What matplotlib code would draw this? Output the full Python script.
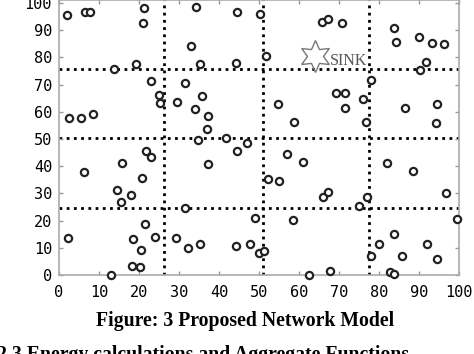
import matplotlib
matplotlib.use("Agg")
import matplotlib.pyplot as plt
import numpy as np

# sensor node positions (x, y)
node_x = [1.9, 6.5, 7.75, 21.25, 21.1, 13.8, 19.2, 23, 25.1, 25.25, 29.6, 31.5, 33, 34,
          2.5, 5.4, 8.4,
          34.2, 44.4, 50.25, 35.25, 44.25, 51.75, 65.8, 67.2, 70.8,
          35.8, 37.2, 37.1, 54.8, 58.8, 34.7, 41.8, 47.1, 44.6,
          83.75, 84.2, 90, 93.2, 96.25, 91.75, 90.25, 77.9,
          69.2, 71.5, 71.5, 76.1, 76.7, 86.5, 94.4, 94.25,
          21.7, 22.9, 15.7, 6.3, 20.7, 14.6, 18, 15.4, 31.5,
          21.5, 2.2, 18.4, 23.9, 29.2, 20.5, 32.2, 18.2, 20.25, 12.9,
          37.3, 52.2, 55.1, 57.1, 60.9, 65.9, 67.2, 49.1, 58.6,
          35.25, 44.2, 47.75, 50, 51.25, 62.6, 67.75,
          82.1, 88.6, 77.1, 75.1, 96.7, 99.6, 83.75, 80.1, 91.9,
          85.7, 77.9, 94.6, 82.75, 83.75]
node_y = [95.7, 96.8, 96.6, 98, 92.8, 75.7, 77.5, 71.3, 66.2, 63.1, 63.7, 70.7, 84.3, 61.2,
          57.7, 57.8, 59.3,
          98.6, 96.8, 95.8, 77.6, 78, 80.6, 93.1, 94.1, 92.8,
          65.8, 58.5, 53.6, 62.9, 56.3, 49.6, 50.3, 48.4, 45.6,
          90.7, 85.5, 87.6, 85.4, 85, 78.4, 75.5, 71.7,
          66.8, 66.8, 61.5, 64.7, 56.3, 61.5, 62.9, 56,
          45.6, 43.5, 41.3, 38, 35.5, 31.3, 29.4, 27, 24.5,
          18.9, 13.5, 13.2, 14, 13.7, 9.2, 9.8, 3.4, 2.9, 0,
          40.8, 35.3, 34.7, 44.4, 41.4, 28.6, 30.4, 20.8, 20.2,
          11.3, 10.8, 11.5, 8, 8.9, 0, 1.5,
          41, 38.2, 28.8, 25.5, 30.3, 20.5, 15.1, 11.3, 11.5,
          7.1, 7.1, 5.8, 1.2, 0.4]

sink = (64, 80.6)
grid_x = [26.3, 51.1, 77.6]
grid_y = [24.5, 50.3, 75.6]
ticks = list(range(0, 101, 10))

fig = plt.figure(figsize=(4.74, 3.54), dpi=100)
ax = fig.add_axes([59 / 474, (354 - 275) / 354, 400 / 474, 275 / 354])
ax.set_xlim(0, 100)
ax.set_ylim(0, 101.1)

# dotted cluster boundaries
for gx in grid_x:
    ax.axvline(gx, color="black", linestyle=(0, (1, 1.6)), linewidth=2.0, zorder=1)
for gy in grid_y:
    ax.axhline(gy, color="black", linestyle=(0, (1, 1.6)), linewidth=2.0, zorder=1)

# nodes
ax.plot(node_x, node_y, linestyle="none", marker="o", markersize=5.2,
        markerfacecolor="white", markeredgecolor="#222222", markeredgewidth=1.6,
        clip_on=False, zorder=3)

# sink
ax.plot([sink[0]], [sink[1]], marker=(6, 1, 0), markersize=23,
        markerfacecolor="none", markeredgecolor="#777777", markeredgewidth=1.0,
        linestyle="none", zorder=4)
ax.text(67.8, 78.5, "SINK", family="Liberation Serif", fontsize=11.5,
        color="#555555", va="center", ha="left", zorder=4)

ax.set_xticks(ticks)
ax.set_yticks(ticks)
ax.tick_params(direction="in", length=3, width=1, color="#999999",
               top=True, right=True, labelsize=11, pad=5)
ax.tick_params(axis="x", pad=7)
for lab in ax.get_xticklabels() + ax.get_yticklabels():
    lab.set_family("DejaVu Sans Mono")
for sp in ax.spines.values():
    sp.set_color("#aaaaaa")
    sp.set_linewidth(1.2)

fig.text(245 / 474, 1 - 326 / 354, "Figure: 3 Proposed Network Model",
         family="Liberation Serif", fontweight="bold", fontsize=14.2,
         ha="center", va="baseline")
fig.text(-3 / 474, 1 - 360 / 354, "2.3 Energy calculations and Aggregate Functions",
         family="Liberation Serif", fontweight="bold", fontsize=14.2,
         ha="left", va="baseline")

fig.savefig("out.png", dpi=100)
